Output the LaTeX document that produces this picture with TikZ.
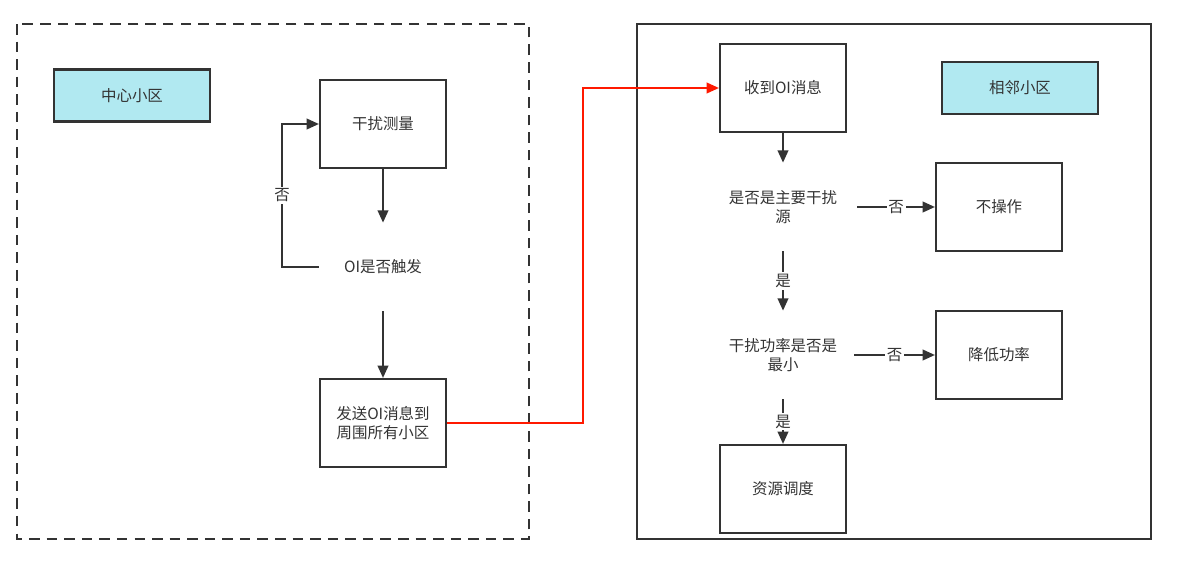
\documentclass[tikz,border=0pt]{standalone}
\usepackage{fontspec}
\setmainfont{Noto Sans CJK SC}
\usetikzlibrary{shapes.geometric,arrows.meta}
\definecolor{ln}{HTML}{333333}
\definecolor{cy}{HTML}{B1E9F1}
\begin{document}
\begin{tikzpicture}[x=0.02cm,y=-0.02cm,font=\fontsize{8.8pt}{10.5pt}\selectfont,
 box/.style={draw=ln,line width=1.2pt,minimum width=2.52cm,minimum height=1.76cm,align=center,inner sep=1pt,text=ln},
 tag/.style={draw=ln,line width=1.2pt,fill=cy,minimum width=3.12cm,minimum height=1.04cm,text=ln},
 dia/.style={rectangle,inner sep=0pt,minimum height=1.76cm,align=center,text=ln,
   append after command={\pgfextra{\let\dn\tikzlastnode}
   [draw=ln,line width=1.2pt] (\dn.north) -- (\dn.east) -- (\dn.south) -- (\dn.west) -- cycle}},
 con/.style={draw=ln,line width=1.2pt,-{Triangle[length=7pt,width=6pt]}},
 lab/.style={fill=white,inner sep=1pt,text=ln}]
\useasboundingbox (0,0) rectangle (1193,561);
\draw[ln,line width=1.2pt,dash pattern=on 6pt off 4pt] (17,24) rectangle (529,539);
\draw[ln,line width=1.2pt] (637,24) rectangle (1151,539);
\node[tag] (c) at (132,95.5) {中心小区};
\node[tag] (n) at (1020,88) {相邻小区};
\node[box] (m) at (383,124) {干扰测量};
\node[dia,minimum width=2.56cm] (d1) at (383,267) {OI是否触发};
\node[box] (s) at (383,423) {发送OI消息到\\周围所有小区};
\node[box] (r) at (783,88) {收到OI消息};
\node[dia,minimum width=2.96cm] (d2) at (783,207) {是否是主要干扰\\源};
\node[box] (no) at (999,207) {不操作};
\node[dia,minimum width=2.84cm] (d3) at (783,355) {干扰功率是否是\\最小};
\node[box] (lo) at (999,355) {降低功率};
\node[box] (z) at (783,489) {资源调度};
\coordinate (a1) at (282,267);
\coordinate (b1) at (583,423); \coordinate (b2) at (583,88);
\draw[con] (m) -- (d1);
\draw[con] (d1) -- (s);
\draw[con] (d1.west) -- (a1) -- node[lab,pos=0.5]{否} (a1 |- m.west) -- (m.west);
\draw[line width=1.2pt,draw=red!80!orange,-{Triangle[length=7pt,width=6pt]}] (s.east) -- (b1) -- (b2) -- (r.west);
\draw[con] (r) -- (d2);
\draw[con] (d2) -- node[lab]{否} (no);
\draw[con] (d2) -- node[lab]{是} (d3);
\draw[con] (d3) -- node[lab]{否} (lo);
\draw[con] (d3) -- node[lab]{是} (z);
\end{tikzpicture}
\end{document}
